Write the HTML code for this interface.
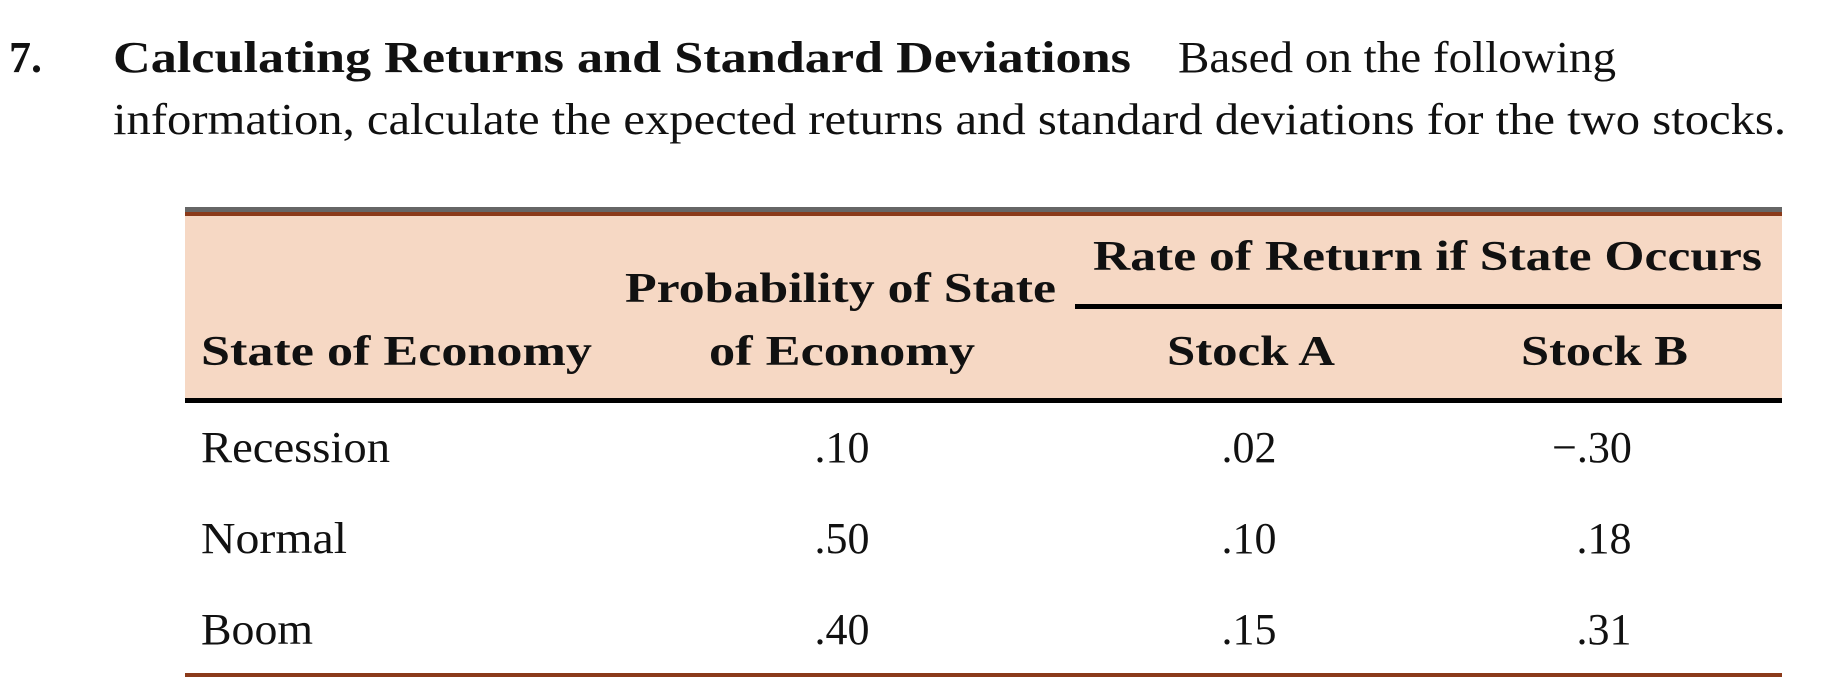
<!DOCTYPE html>
<html><head><meta charset="utf-8"><style>
html,body{margin:0;padding:0;background:#fff;width:1824px;height:694px;overflow:hidden}
svg text{font-family:"Liberation Serif",serif;fill:#111}
.b{font-weight:bold}
</style></head><body>
<svg width="1824" height="694" viewBox="0 0 1824 694">
<text class="b" x="9" y="72" font-size="44">7.</text>
<text class="b" x="113" y="72" font-size="44" textLength="1018" lengthAdjust="spacingAndGlyphs">Calculating Returns and Standard Deviations</text>
<text x="1178" y="72" font-size="44" textLength="438" lengthAdjust="spacingAndGlyphs">Based on the following</text>
<text x="113" y="134" font-size="44" textLength="1673" lengthAdjust="spacingAndGlyphs">information, calculate the expected returns and standard deviations for the two stocks.</text>

<rect x="185" y="207" width="1597" height="5" fill="#666"/>
<rect x="185" y="212" width="1597" height="4" fill="#8b3a1a"/>
<rect x="185" y="216" width="1597" height="183" fill="#f6d8c4"/>
<rect x="185" y="398" width="1597" height="5" fill="#000"/>
<rect x="1075" y="304" width="707" height="5" fill="#000"/>

<text class="b" x="1093" y="270" font-size="42" textLength="669" lengthAdjust="spacingAndGlyphs">Rate of Return if State Occurs</text>
<text class="b" x="625" y="302" font-size="42" textLength="431" lengthAdjust="spacingAndGlyphs">Probability of State</text>
<text class="b" x="709" y="365" font-size="42" textLength="266" lengthAdjust="spacingAndGlyphs">of Economy</text>
<text class="b" x="201" y="365" font-size="42" textLength="391" lengthAdjust="spacingAndGlyphs">State of Economy</text>
<text class="b" x="1167" y="365" font-size="42" textLength="168" lengthAdjust="spacingAndGlyphs">Stock A</text>
<text class="b" x="1521" y="365" font-size="42" textLength="167" lengthAdjust="spacingAndGlyphs">Stock B</text>

<g font-size="44">
<text x="201" y="462" textLength="189" lengthAdjust="spacingAndGlyphs">Recession</text>
<text x="842" y="462" text-anchor="middle">.10</text>
<text x="1249" y="462" text-anchor="middle">.02</text>
<text x="1592" y="462" text-anchor="middle">−.30</text>
</g>
<g font-size="44">
<text x="201" y="553" textLength="146" lengthAdjust="spacingAndGlyphs">Normal</text>
<text x="842" y="553" text-anchor="middle">.50</text>
<text x="1249" y="553" text-anchor="middle">.10</text>
<text x="1604" y="553" text-anchor="middle">.18</text>
</g>
<g font-size="44">
<text x="201" y="644" textLength="112" lengthAdjust="spacingAndGlyphs">Boom</text>
<text x="842" y="644" text-anchor="middle">.40</text>
<text x="1249" y="644" text-anchor="middle">.15</text>
<text x="1604" y="644" text-anchor="middle">.31</text>
</g>
<rect x="185" y="673" width="1597" height="4" fill="#8b3a1a"/>
</svg>
</body></html>
